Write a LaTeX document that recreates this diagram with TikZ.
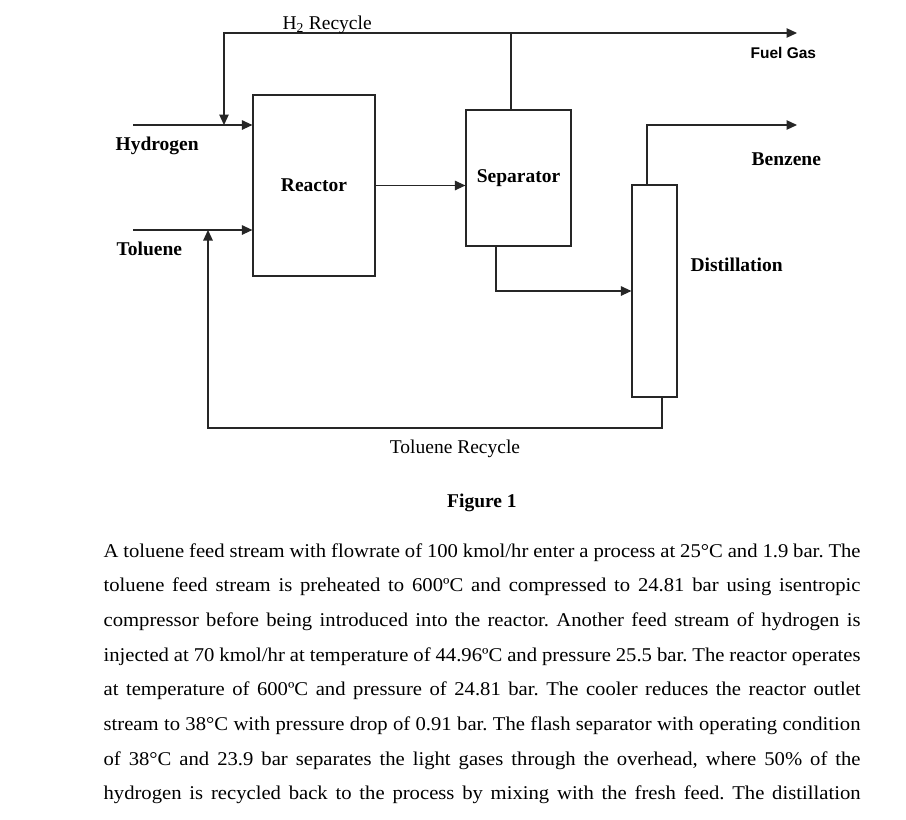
\documentclass[tikz,border=0pt]{standalone}
\usepackage{fontspec}
\setmainfont{Liberation Serif}
\newfontfamily\arialf{Liberation Sans}
\newfontfamily\parafont[FakeStretch=1.06]{Liberation Serif}
\usetikzlibrary{arrows.meta,calc}
\begin{document}
\frenchspacing
\begin{tikzpicture}[x=1pt,y=-1pt,
  line width=1.2pt,
  flow/.style={draw=black!85,line width=1.2pt},
  arr/.style={flow,-{Triangle[length=10.5pt,width=9.5pt]}},
  unit/.style={draw=black!85,line width=1.2pt,rectangle,inner sep=0pt,font=\fontsize{19.5}{22}\selectfont\bfseries},
  lbl/.style={inner sep=0pt,font=\fontsize{19.5}{22}\selectfont\bfseries},
  rlbl/.style={inner sep=0pt,font=\fontsize{19.5}{22}\selectfont},
  para/.style={inner sep=0pt,anchor=base west,font=\parafont\fontsize{19.5}{22}\selectfont}]
\useasboundingbox[fill=white] (0,0) rectangle (906,820);

% units
\node[unit,minimum width=122pt,minimum height=181pt] (reactor) at (314,185.5) {Reactor};
\node[unit,minimum width=105pt,minimum height=136pt] (sep) at (518.5,178) {Separator};
\node[unit,minimum width=45pt,minimum height=212pt] (dist) at (654.5,291) {};

% free ends
\coordinate (fuel) at (797,33);
\coordinate (h2turn) at (224,33);
\coordinate (hin) at (133,125);
\coordinate (tin) at (133,230);
\coordinate (benz) at (797,125);
\coordinate (trturn) at (208,428);

% streams
\draw[arr] (hin) -- (reactor.west |- hin);
\draw[arr] (tin) -- (reactor.west |- tin);
\draw[arr] ([xshift=-7.5pt]sep.north) |- (fuel);
\draw[arr] ([xshift=-7.5pt]sep.north) |- (h2turn) -- (h2turn |- hin);
\draw[arr] (reactor.east) -- (sep.west |- reactor.east);
\draw[arr] ([xshift=-22.5pt]sep.south) |- (dist.west);
\draw[arr] ([xshift=-7.5pt]dist.north) |- (benz);
\draw[arr] ([xshift=7.5pt]dist.south) |- (trturn) -- (trturn |- tin);

% labels
\node[rlbl,anchor=base west] (h2lbl) at (282,29) {H\textsubscript{2} Recycle};
\node[lbl,anchor=base west,font=\fontsize{15.5}{18}\selectfont\arialf\bfseries] (fuellbl) at (750,58) {Fuel Gas};
\node[lbl,anchor=base west] (benzlbl) at (751,165) {Benzene};
\node[lbl,anchor=base west] (distlbl) at (690,271) {Distillation};
\node[lbl,anchor=base west] (hydlbl) at (115,150) {Hydrogen};
\node[lbl,anchor=base west] (tollbl) at (116,255) {Toluene};
\node[rlbl,anchor=base] (trlbl) at (455,453) {Toluene Recycle};
\node[lbl,anchor=base] (fig) at (482,507) {Figure 1};

% paragraph
\node[para] (p1) at (103,557) {\makebox[757pt][s]{A toluene feed stream with flowrate of 100 kmol/hr enter a process at 25°C and 1.9 bar. The}};
\node[para] (p2) at (103,591.7) {\makebox[757pt][s]{toluene feed stream is preheated to 600ºC and compressed to 24.81 bar using isentropic}};
\node[para] (p3) at (103,626.4) {\makebox[757pt][s]{compressor before being introduced into the reactor. Another feed stream of hydrogen is}};
\node[para] (p4) at (103,661.1) {\makebox[757pt][s]{injected at 70 kmol/hr at temperature of 44.96ºC and pressure 25.5 bar. The reactor operates}};
\node[para] (p5) at (103,695.8) {\makebox[757pt][s]{at temperature of 600ºC and pressure of 24.81 bar. The cooler reduces the reactor outlet}};
\node[para] (p6) at (103,730.5) {\makebox[757pt][s]{stream to 38°C with pressure drop of 0.91 bar. The flash separator with operating condition}};
\node[para] (p7) at (103,765.2) {\makebox[757pt][s]{of 38°C and 23.9 bar separates the light gases through the overhead, where 50\% of the}};
\node[para] (p8) at (103,799.9) {\makebox[757pt][s]{hydrogen is recycled back to the process by mixing with the fresh feed. The distillation}};
\end{tikzpicture}
\end{document}
